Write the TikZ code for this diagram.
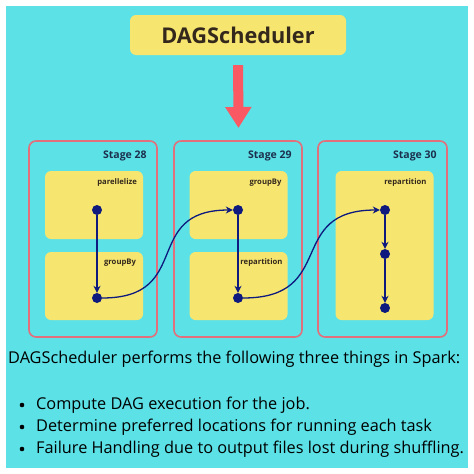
\documentclass[tikz,border=0pt]{standalone}
\usepackage{fontspec}
\setmainfont{Open Sans}
\usetikzlibrary{arrows.meta, positioning}
\definecolor{skycyan}{RGB}{92,225,230}
\definecolor{noteyellow}{RGB}{246,230,112}
\definecolor{stagered}{RGB}{226,112,124}
\definecolor{arrowred}{RGB}{250,88,98}
\definecolor{dotnavy}{RGB}{14,26,126}
\definecolor{titlebrown}{RGB}{52,40,28}
\definecolor{labelnavy}{RGB}{28,48,78}

\begin{document}
\begin{tikzpicture}[x=1pt, y=-1pt,
  stagebox/.style={draw=stagered, line width=1.6pt, rounded corners=7pt,
                   minimum width=128pt, minimum height=196pt, inner sep=0pt},
  opbox/.style={fill=noteyellow, rounded corners=6pt, minimum width=98pt,
                minimum height=68pt, inner sep=0pt},
  stagelabel/.style={font=\fontsize{10.5}{12}\selectfont\bfseries, text=labelnavy,
                     anchor=north east, inner sep=0pt},
  oplabel/.style={font=\fontsize{7.7}{9}\selectfont\bfseries, text=titlebrown,
                  anchor=north east, inner sep=0pt},
  rdd/.style={circle, fill=dotnavy, minimum size=10pt, inner sep=0pt},
  flow/.style={dotnavy, line width=1.3pt, -{Stealth[length=7pt, width=7pt]}},
  note/.style={anchor=west, inner sep=0pt, font=\fontsize{16.3}{19}\selectfont},
]
\useasboundingbox[fill=white] (0,0) rectangle (474,474);
\fill[skycyan] (6,6) rectangle (468,468);

% Title
\node[fill=noteyellow, rounded corners=6pt, minimum width=216pt, minimum height=40pt,
      font=\fontsize{21.7}{24}\selectfont\bfseries, text=titlebrown] (sched) at (238,35) {DAGScheduler};
\coordinate (stagein) at (238.5,128);
\draw[arrowred, line width=10pt, -{Triangle[length=21pt, width=25pt]},
      shorten <=10pt] (sched.south) -- (stagein);

% Stage 28
\node[stagebox] (s28) at (93,239) {};
\node[stagelabel] at ([xshift=-11pt, yshift=-10pt]s28.north east) {Stage 28};
\node[opbox] (par) at (94,205) {};
\node[oplabel] at ([xshift=-6pt, yshift=-8pt]par.north east) {parellelize};
\node[opbox] (grp) at (94,286) {};
\node[oplabel] at ([xshift=-7pt, yshift=-7pt]grp.north east) {groupBy};
\node[rdd] (a1) at (97,210) {};
\node[rdd] (a2) at (97,298) {};

% Stage 29
\node[stagebox] (s29) at (238,239) {};
\node[stagelabel] at ([xshift=-11pt, yshift=-10pt]s29.north east) {Stage 29};
\node[opbox] (grp2) at (238.5,205) {};
\node[oplabel] at ([xshift=-6pt, yshift=-8pt]grp2.north east) {groupBy};
\node[opbox] (rep) at (238.5,286) {};
\node[oplabel] at ([xshift=-5pt, yshift=-7pt]rep.north east) {repartition};
\node[rdd] (b1) at (238,210) {};
\node[rdd] (b2) at (238,298) {};

% Stage 30
\node[stagebox, minimum width=129pt] (s30) at (382.5,239) {};
\node[stagelabel] at ([xshift=-11pt, yshift=-10pt]s30.north east) {Stage 30};
\node[opbox, minimum height=149pt] (rep2) at (384.5,245.5) {};
\node[oplabel] at ([xshift=-7pt, yshift=-8pt]rep2.north east) {repartition};
\node[rdd] (c1) at (385,210) {};
\node[rdd] (c2) at (385,254) {};
\node[rdd] (c3) at (385,308) {};

% Edges
\draw[flow] (a1) -- (a2);
\draw[flow] (b1) -- (b2);
\draw[flow] (c1) -- (c2);
\draw[flow] (c2) -- (c3);
\draw[flow] (a2) to[out=0, in=180, looseness=1.5] (b1);
\draw[flow] (b2) to[out=0, in=180, looseness=1.5] (c1);

% Notes
\node[note] (intro) at (8,359) {DAGScheduler performs the following three things in Spark:};
\node[note] (job) at (36,405) {Compute DAG execution for the job.};
\node[note] (loc) at (36,427) {Determine preferred locations for running each task};
\node[note] (fail) at (36,449) {Failure Handling due to output files lost during shuffling.};
\foreach \y in {405,427,449}
  \fill (22,\y) circle (2.3pt);
\end{tikzpicture}
\end{document}
